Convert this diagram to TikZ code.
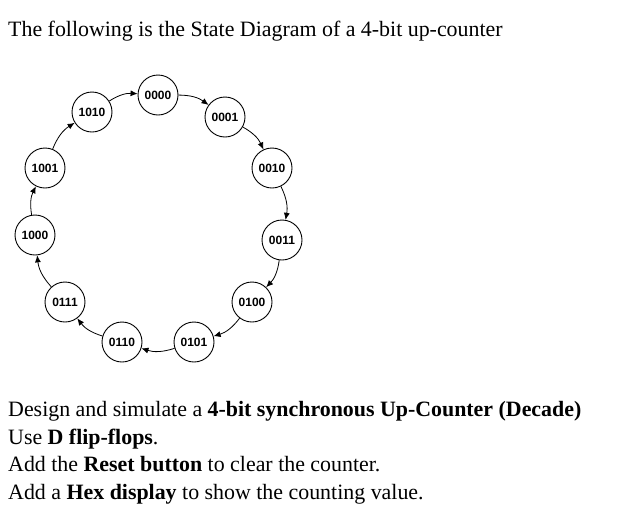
\documentclass[tikz,border=0pt]{standalone}
\usepackage{fontspec}
\setmainfont{Liberation Serif}
\newfontfamily\lblfont{Liberation Sans}
\usetikzlibrary{arrows.meta}
\begin{document}
\begin{tikzpicture}[x=1pt,y=-1pt,
  st/.style={circle,draw,line width=0.9pt,minimum size=40pt,inner sep=0pt,font=\lblfont\bfseries\fontsize{12}{13}\selectfont},
  tr/.style={-{Latex[length=7pt,width=6pt]},line width=0.8pt,bend left=18},
  txt/.style={anchor=base west,inner sep=0pt,font=\fontsize{21.9}{26}\selectfont}]
\useasboundingbox (0,0) rectangle (618,512);
\node[txt] (title) at (8,36) {The following is the State Diagram of a 4-bit up-counter};
\node[st] (s0) at (158,95) {0000};
\node[st] (s1) at (225,117) {0001};
\node[st] (s2) at (272,168) {0010};
\node[st] (s3) at (282,240) {0011};
\node[st] (s4) at (252,302) {0100};
\node[st] (s5) at (194,342) {0101};
\node[st] (s6) at (122,342) {0110};
\node[st] (s7) at (65,302) {0111};
\node[st] (s8) at (35,235) {1000};
\node[st] (s9) at (45,168) {1001};
\node[st] (s10) at (92,112) {1010};
\draw[tr] (s10) to (s0);
\draw[tr] (s0) to (s1);
\draw[tr] (s1) to (s2);
\draw[tr] (s2) to (s3);
\draw[tr] (s3) to (s4);
\draw[tr] (s4) to (s5);
\draw[tr] (s5) to (s6);
\draw[tr] (s6) to (s7);
\draw[tr] (s7) to (s8);
\draw[tr] (s8) to (s9);
\draw[tr] (s9) to (s10);
\node[txt] (l1) at (8,416) {Design and simulate a \textbf{4-bit synchronous Up-Counter (Decade)}};
\node[txt] (l2) at (8,444) {Use \textbf{D flip-flops}.};
\node[txt] (l3) at (8,471) {Add the \textbf{Reset button} to clear the counter.};
\node[txt] (l4) at (8,499) {Add a \textbf{Hex display} to show the counting value.};
\end{tikzpicture}
\end{document}
